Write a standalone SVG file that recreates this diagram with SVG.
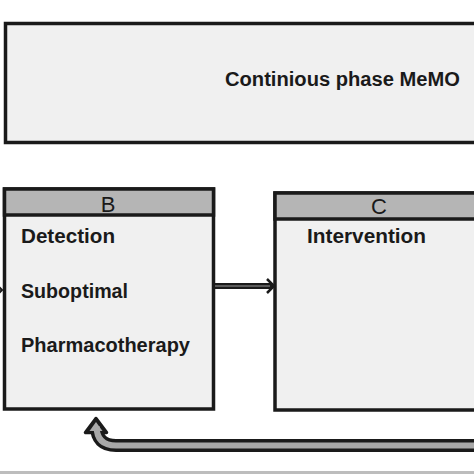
<svg xmlns="http://www.w3.org/2000/svg" width="474" height="474" viewBox="0 0 474 474">
<style>
.box{fill:#f0f0f0;stroke:#1a1a1a;stroke-width:3.5}
.hdr{fill:#b5b5b5;stroke:#1a1a1a;stroke-width:3.5}
.lbl{font-family:"Liberation Sans",Arial,sans-serif;font-weight:bold;font-size:20px;fill:#1a1a1a}
.ttl{font-family:"Liberation Sans",Arial,sans-serif;font-size:22px;fill:#1a1a1a;text-anchor:middle}
</style>
<rect x="0" y="0" width="474" height="474" fill="#ffffff"/>
<g id="phase">
<rect class="box" x="5.5" y="23.5" width="480" height="119"/>
<text class="lbl" x="225" y="86" textLength="235" lengthAdjust="spacingAndGlyphs">Continious phase MeMO</text>
</g>
<g id="nodeB">
<rect class="box" x="4.5" y="189" width="209" height="220"/>
<rect class="hdr" x="4.5" y="189" width="209" height="26"/>
<text class="ttl" x="108" y="212">B</text>
<text class="lbl" x="21" y="243" textLength="94" lengthAdjust="spacingAndGlyphs">Detection</text>
<text class="lbl" x="21" y="298" textLength="107" lengthAdjust="spacingAndGlyphs">Suboptimal</text>
<text class="lbl" x="21" y="352" textLength="169" lengthAdjust="spacingAndGlyphs">Pharmacotherapy</text>
</g>
<g id="nodeC">
<rect class="box" x="275" y="193" width="220" height="217"/>
<rect class="hdr" x="275" y="193" width="220" height="26"/>
<text class="ttl" x="379" y="214">C</text>
<text class="lbl" x="307" y="243" textLength="119" lengthAdjust="spacingAndGlyphs">Intervention</text>
</g>
<g id="connectors">
<polyline points="-2,286 2,290 -2,294" fill="none" stroke="#1a1a1a" stroke-width="2"/>
<line x1="215" y1="286" x2="273" y2="286" stroke="#1a1a1a" stroke-width="6"/>
<line x1="215" y1="286" x2="270" y2="286" stroke="#5a5a5a" stroke-width="2"/>
<polyline points="267,279 274,286 267,293" fill="none" stroke="#1a1a1a" stroke-width="2.5"/>
<path d="M480 445.5 H116 Q96.5 445.5 96.5 426" fill="none" stroke="#1a1a1a" stroke-width="13"/>
<polygon points="96,418.5 85.5,432.5 106.5,432.5" fill="#1a1a1a" stroke="#1a1a1a" stroke-width="3.5" stroke-linejoin="round"/>
<path d="M480 445.5 H116 Q96.5 445.5 96.5 426" fill="none" stroke="#a8a8a8" stroke-width="6"/>
<polygon points="96,422 89.5,431 102.5,431" fill="#a8a8a8"/>
</g>
<rect x="0" y="471" width="474" height="3" fill="#bdbdbd"/>
</svg>
